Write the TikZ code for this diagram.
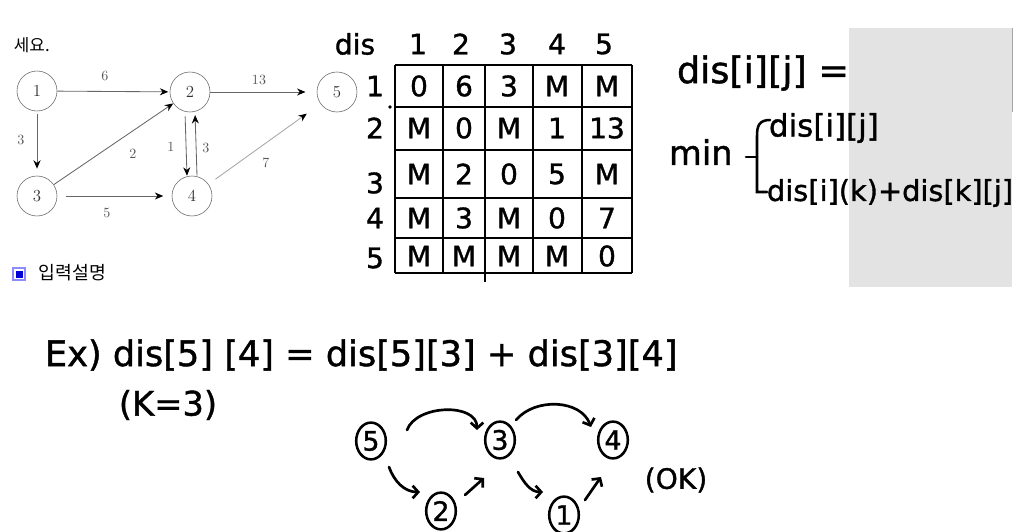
\documentclass[tikz,border=0pt]{standalone}
\usepackage{fontspec}
\newfontfamily\kfont{Noto Sans CJK KR}
\newfontfamily\handfont[FakeBold=1.2]{DejaVu Sans}
\usetikzlibrary{arrows.meta,shapes.geometric}

\begin{document}
\begin{tikzpicture}[x=0.025cm,y=-0.025cm,
  gnode/.style={draw=black!60,circle,minimum size=1cm,inner sep=0pt,text=black!80,font=\fontsize{12}{14}\selectfont},
  gedge/.style={draw=black!60,line width=0.6pt,-{Stealth[length=6pt,width=5pt,black]}},
  glabel/.style={text=black!65,font=\fontsize{10}{12}\selectfont},
  hand/.style={font=\handfont\fontsize{20}{22}\selectfont},
  grid/.style={line width=1.9pt},
  hnode/.style={draw,line width=1.8pt,ellipse,minimum width=0.74cm,minimum height=0.92cm,inner sep=0pt,font=\handfont\fontsize{19}{20}\selectfont},
  harrow/.style={line width=1.9pt,line cap=round,-{Straight Barb[length=4pt,width=9pt]}}]
\useasboundingbox (0,0) rectangle (1020,532);

% Grey panel on the right
\fill[black!11] (849,28) rectangle (1012,287);
\draw[black!35,line width=0.6pt] (1012,28) -- (1012,112);

% Graph from the problem text
\node[anchor=west,font=\kfont\fontsize{12}{14}\selectfont] (title) at (9,45) {세요.};
\node[gnode] (n1) at (37,91) {1};
\node[gnode] (n2) at (190,92) {2};
\node[gnode] (n5) at (337,92) {5};
\node[gnode] (n3) at (37,196) {3};
\node[gnode] (n4) at (192,196) {4};

\draw[gedge,shorten >=1pt] (n1) -- (n2);
\draw[gedge,shorten >=8pt] (n2) -- (n5);
\draw[gedge,shorten <=2pt,shorten >=5pt] (n1) -- (n3);
\draw[gedge] (n3) -- (n2);
\draw[gedge,shorten <=3pt] ([shift={(-5,0)}]n2.south) -- ([shift={(-5,0)}]n4.north);
\draw[gedge,shorten >=2pt] ([shift={(5,0)}]n4.north) -- ([shift={(5,0)}]n2.south);
\draw[gedge,draw=black!35,shorten <=6pt,shorten >=12pt] (n4) -- (n5);
\draw[gedge,shorten <=6pt,shorten >=6pt] (n3) -- (n4);

\node[glabel] (w12) at (105,76) {6};
\node[glabel] (w25) at (259,80) {13};
\node[glabel] (w13) at (21,140) {3};
\node[glabel] (w32) at (133,154) {2};
\node[glabel] (w24) at (171,147) {1};
\node[glabel] (w42) at (206,148) {3};
\node[glabel] (w45) at (266,163) {7};
\node[glabel] (w34) at (107,213) {5};

% Legend mark
\draw[blue!45,line width=0.8pt,fill=white] (13,268) rectangle (25,280);
\fill[blue!85!black] (15.5,270.5) rectangle (22.5,277.5);
\node[anchor=west,font=\kfont\fontsize{13}{15}\selectfont] (desc) at (34,273) {입력설명};

% dis table
\node[hand] (dis) at (355,44) {dis};
\foreach \t/\x in {1/418,2/461,3/508,4/557,5/604}
  \node[hand] (col\t) at (\x,44) {\t};
\foreach \t/\y in {1/86,2/128,3/183,4/218,5/258}
  \node[hand] (row\t) at (375,\y) {\t};
\foreach \x in {395,443,485,533,582,632}
  \draw[grid] (\x,65) -- (\x,273);
\foreach \y in {65,107,150,198,238,273}
  \draw[grid] (395,\y) -- (632,\y);
\draw[grid] (485,273) -- (485,282);
\fill (390,107) circle (1.3pt);

\foreach \cy/\vals [count=\r] in {86/{0,6,3,M,M},128/{M,0,M,1,13},174/{M,2,0,5,M},218/{M,3,M,0,7},256/{M,M,M,M,0}}
  \foreach \v [count=\c] in \vals {
    \pgfmathsetmacro\cx{{419,464,509,557,607}[\c-1]}
    \node[hand] (c\r\c) at (\cx,\cy) {\v};
  }

% Recurrence
\node[hand,anchor=west,font=\handfont\fontsize{26}{28}\selectfont] (f1) at (672,73) {dis[i][j] =};
\node[hand,anchor=west,font=\handfont\fontsize{24}{26}\selectfont] (fmin) at (664,152) {min};
\draw[line width=1.8pt,line cap=round] (770,120) .. controls (759,120) and (757,126) .. (757,136)
  -- (757,192) -- (767,192);
\draw[line width=1.8pt,line cap=round] (746,157) -- (757,157);
\node[hand,anchor=west,font=\handfont\fontsize{22}{24}\selectfont] (f2) at (764,128) {dis[i][j]};
\node[hand,anchor=west,font=\handfont\fontsize{20.5}{24}\selectfont] (f3) at (762,193) {dis[i](k)+dis[k][j]};

% Example
\node[hand,anchor=west,font=\handfont\fontsize{25}{28}\selectfont] (ex) at (40,355) {Ex) dis[5] [4] = dis[5][3] + dis[3][4]};
\node[hand,font=\handfont\fontsize{24}{26}\selectfont] (kk) at (168,405) {(K=3)};

\node[hnode] (p5) at (371,441) {5};
\node[hnode] (p3) at (500,440) {3};
\node[hnode] (p4) at (613,440) {4};
\node[hnode] (p2) at (441,511) {2};
\node[hnode] (p1) at (564,515) {1};

\draw[harrow] ([shift={(36,-11)}]p5.center) to[out=70,in=90] ([shift={(-23,-10)}]p3.center);
\draw[harrow] ([shift={(16,-20)}]p3.center) to[out=50,in=110] ([shift={(-22,-13)}]p4.center);
\draw[harrow] ([shift={(18,26)}]p5.center) to[out=-70,in=180] ([shift={(-21,-19)}]p2.center);
\draw[harrow] ([shift={(24,-16)}]p2.center) -- ([shift={(-16,38)}]p3.center);
\draw[harrow] ([shift={(18,32)}]p3.center) to[out=-60,in=180] ([shift={(-21,-23)}]p1.center);
\draw[harrow] ([shift={(21,-15)}]p1.center) -- ([shift={(-12,37)}]p4.center);

\node[hand] (ok) at (676,480) {(OK)};
\end{tikzpicture}
\end{document}
